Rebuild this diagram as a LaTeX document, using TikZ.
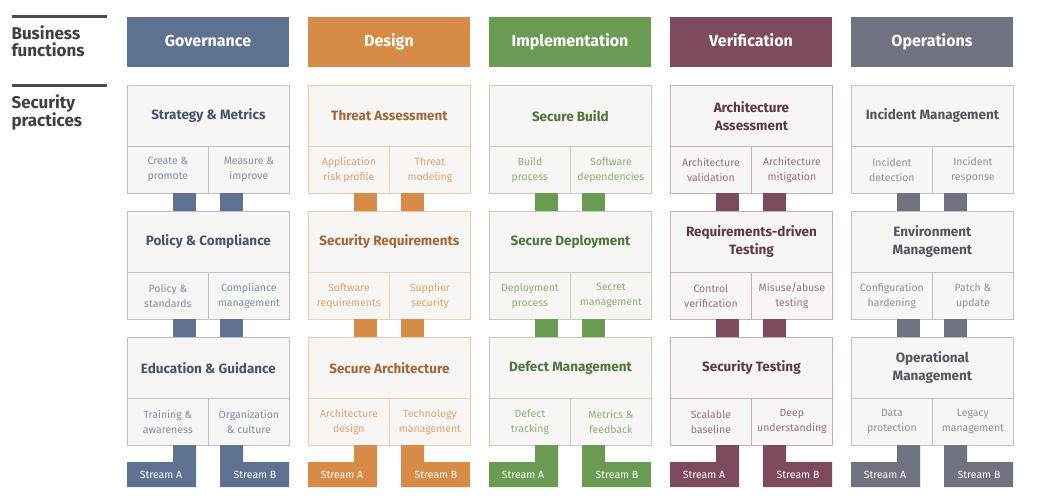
\documentclass[tikz,border=0pt]{standalone}
\usepackage{fontspec}
\setmainfont{Fira Sans}
\definecolor{cG}{HTML}{5E7190}
\definecolor{cD}{HTML}{D68B47}
\definecolor{cI}{HTML}{6B9B52}
\definecolor{cV}{HTML}{7E4A5F}
\definecolor{cO}{HTML}{6F737F}
\definecolor{boxfill}{HTML}{F7F6F5}
\newcommand{\hdr}[3]{% index, color, text
  \pgfmathsetmacro{\xx}{127+181*#1}
  \node[headbox, fill=#2] (h#1) at (\xx+81,-42) {#3};}
\newcommand{\prac}[6]{% index,row,color,title,subA,subB
  \pgfmathsetmacro{\xx}{127+181*#1}
  \pgfmathsetmacro{\yy}{-85-126*#2}
  \node[titlebox, draw=#3!45!white, text=#3!75!black, anchor=north west] (t#1#2) at (\xx,\yy) {#4};
  \node[subbox, draw=#3!45!white, text=#3!80!white, anchor=north west] (a#1#2) at (\xx,\yy-61) {#5};
  \node[subbox, draw=#3!45!white, text=#3!80!white, anchor=north west] (b#1#2) at (\xx+81,\yy-61) {#6};
  \fill[#3] (\xx+46,\yy-108) rectangle (\xx+69,\yy-126);
  \fill[#3] (\xx+93,\yy-108) rectangle (\xx+116,\yy-126);}
\newcommand{\streams}[2]{%
  \pgfmathsetmacro{\xx}{127+181*#1}
  \fill[#2] (\xx,-462) -- (\xx+46,-462) -- (\xx+46,-445) -- (\xx+69,-445) -- (\xx+69,-487) -- (\xx,-487) -- cycle;
  \fill[#2] (\xx+93,-445) -- (\xx+116,-445) -- (\xx+116,-462) -- (\xx+162,-462) -- (\xx+162,-487) -- (\xx+93,-487) -- cycle;
  \node[streamtxt] (sa#1) at (\xx+34,-475) {Stream A};
  \node[streamtxt] (sb#1) at (\xx+128,-475) {Stream B};}
\begin{document}
\begin{tikzpicture}[x=1pt,y=1pt,
  headbox/.style={minimum width=162pt, minimum height=50pt, inner sep=0pt, text height=12pt, text depth=3.5pt, text=white, font=\fontsize{16}{18}\selectfont\bfseries},
  titlebox/.style={fill=boxfill, line width=0.8pt, minimum width=162pt, minimum height=61pt, inner sep=0pt, align=center, font=\fontsize{13.5}{18}\selectfont\bfseries},
  subbox/.style={fill=boxfill, line width=0.8pt, minimum width=81pt, minimum height=47pt, inner sep=0pt, align=center, font=\fontsize{10.5}{15}\selectfont},
  streamtxt/.style={text=white, text height=8pt, text depth=2pt, font=\fontsize{10.5}{12}\selectfont},
  sidelbl/.style={anchor=north west, align=left, text=black!75, font=\fontsize{17}{17}\selectfont\bfseries}]
\useasboundingbox (0,0) rectangle (1048,-502);
\fill[white] (0,0) rectangle (1048,-502);
\draw[black!70, line width=3pt] (12,-17) -- (107,-17);
\draw[black!70, line width=3pt] (12,-86) -- (107,-86);
\node[sidelbl] (bf) at (8,-22) {Business\\functions};
\node[sidelbl] (sp) at (8,-91) {Security\\practices};
\hdr{0}{cG}{Governance}
\hdr{1}{cD}{Design}
\hdr{2}{cI}{Implementation}
\hdr{3}{cV}{Verification}
\hdr{4}{cO}{Operations}
\prac{0}{0}{cG}{Strategy \& Metrics}{Create \&\\promote}{Measure \&\\improve}
\prac{0}{1}{cG}{Policy \& Compliance}{Policy \&\\standards}{Compliance\\management}
\prac{0}{2}{cG}{Education \& Guidance}{Training \&\\awareness}{Organization\\\& culture}
\prac{1}{0}{cD}{Threat Assessment}{Application\\risk profile}{Threat\\modeling}
\prac{1}{1}{cD}{Security Requirements}{Software\\requirements}{Supplier\\security}
\prac{1}{2}{cD}{Secure Architecture}{Architecture\\design}{Technology\\management}
\prac{2}{0}{cI}{Secure Build}{Build\\process}{Software\\dependencies}
\prac{2}{1}{cI}{Secure Deployment}{Deployment\\process}{Secret\\management}
\prac{2}{2}{cI}{Defect Management}{Defect\\tracking}{Metrics \&\\feedback}
\prac{3}{0}{cV}{Architecture\\Assessment}{Architecture\\validation}{Architecture\\mitigation}
\prac{3}{1}{cV}{Requirements-driven\\Testing}{Control\\verification}{Misuse/abuse\\testing}
\prac{3}{2}{cV}{Security Testing}{Scalable\\baseline}{Deep\\understanding}
\prac{4}{0}{cO}{Incident Management}{Incident\\detection}{Incident\\response}
\prac{4}{1}{cO}{Environment\\Management}{Configuration\\hardening}{Patch \&\\update}
\prac{4}{2}{cO}{Operational\\Management}{Data\\protection}{Legacy\\management}
\streams{0}{cG}
\streams{1}{cD}
\streams{2}{cI}
\streams{3}{cV}
\streams{4}{cO}
\end{tikzpicture}
\end{document}
